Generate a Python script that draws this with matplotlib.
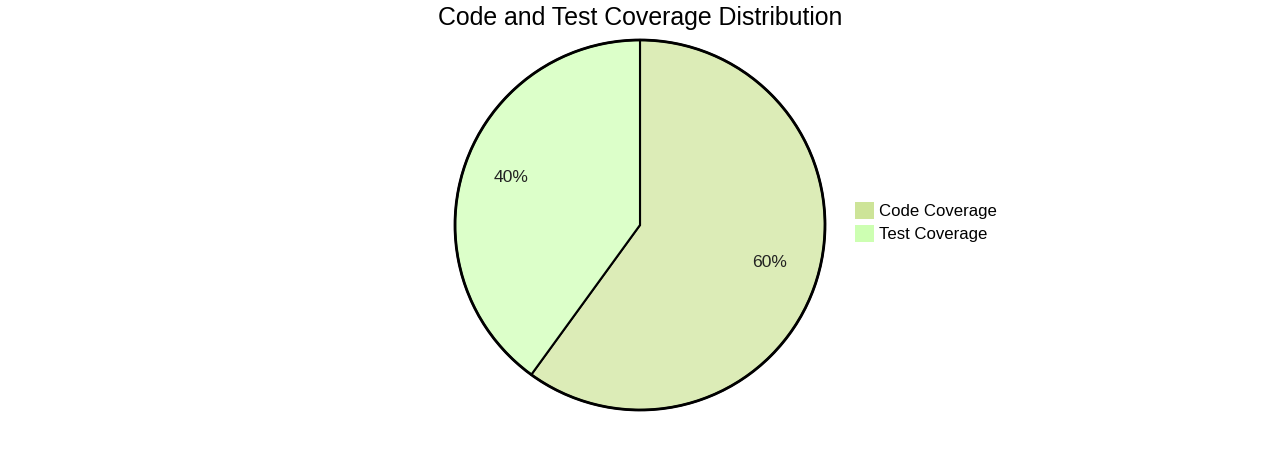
import matplotlib.pyplot as plt
from matplotlib.patches import Circle, Patch

plt.rcParams['font.family'] = ['Liberation Sans', 'DejaVu Sans']

# data
labels = ['Code Coverage', 'Test Coverage']
values = [60, 40]
fill_colors = ['#dcecb7', '#dcffc9']
legend_colors = ['#cde498', '#cdffb2']

fig = plt.figure(figsize=(12.8, 4.5), dpi=100)
ax = fig.add_axes([0, 0, 1, 1])

cx, cy, r = 640, 225, 185
wedges, texts, autotexts = ax.pie(values, colors=fill_colors, startangle=90, counterclock=False,
                                  center=(cx, cy), radius=r, autopct='%1.0f%%', pctdistance=0.735,
                                  wedgeprops=dict(edgecolor='black', linewidth=1.5),
                                  textprops=dict(fontsize=12.6, color='#222222'))
# nudge the percent labels up a little
for t in autotexts:
    x, y = t.get_position()
    t.set_position((x, y + 5))
ax.add_patch(Circle((cx, cy), r, fill=False, edgecolor='black', linewidth=2))
# pie resets the limits, so set them afterwards
ax.set_xlim(0, 1280)
ax.set_ylim(0, 450)
ax.set_aspect('equal')
ax.axis('off')

fig.text(0.5, 1 - 18 / 450, 'Code and Test Coverage Distribution', ha='center', va='center', fontsize=17.9)

handles = [Patch(facecolor=c, edgecolor='none') for c in legend_colors]
fig.legend(handles, labels, loc='center left', bbox_to_anchor=(855 / 1280, 1 - 222 / 450),
           frameon=False, fontsize=12.1, handlelength=1.15, handleheight=1.15,
           handletextpad=0.3, labelspacing=0.35, borderpad=0, borderaxespad=0)

fig.savefig('out.png', dpi=100)
